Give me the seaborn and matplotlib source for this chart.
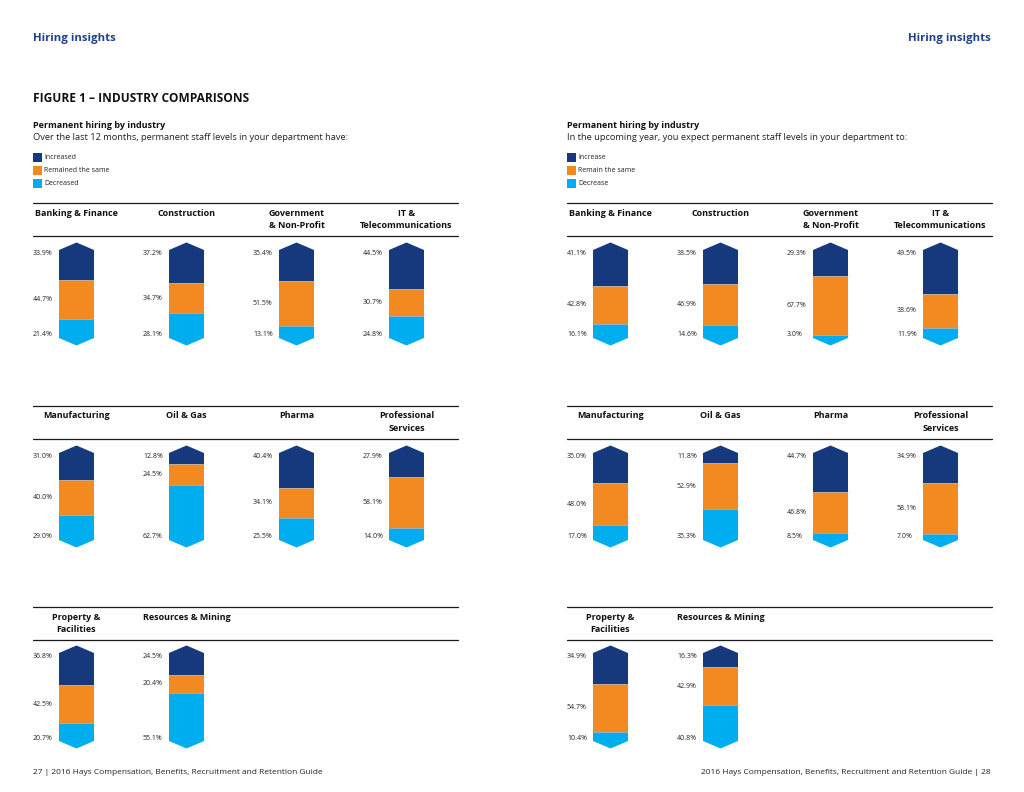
import pandas as pd
import matplotlib.pyplot as plt
import matplotlib.transforms as mtransforms
from matplotlib.patches import Polygon, Rectangle
import seaborn as sns

# industries, one list per row of the figure
row1 = ["Banking & Finance", "Construction", "Government\n& Non-Profit", "IT &\nTelecommunications"]
row2 = ["Manufacturing", "Oil & Gas", "Pharma", "Professional\nServices"]
row3 = ["Property &\nFacilities", "Resources & Mining"]

# left page: over the last 12 months (%)
inc_past = [33.9, 37.2, 35.4, 44.5, 31.0, 12.8, 40.4, 27.9, 36.8, 24.5]
same_past = [44.7, 34.7, 51.5, 30.7, 40.0, 24.5, 34.1, 58.1, 42.5, 20.4]
dec_past = [21.4, 28.1, 13.1, 24.8, 29.0, 62.7, 25.5, 14.0, 20.7, 55.1]

# right page: in the upcoming year (%)
inc_next = [41.1, 38.5, 29.3, 49.5, 35.0, 11.8, 44.7, 34.9, 34.9, 16.3]
same_next = [42.8, 46.9, 67.7, 38.6, 48.0, 52.9, 46.8, 58.1, 54.7, 42.9]
dec_next = [16.1, 14.6, 3.0, 11.9, 17.0, 35.3, 8.5, 7.0, 10.4, 40.8]

legend_past = ["Increased", "Remained the same", "Decreased"]
legend_next = ["Increase", "Remain the same", "Decrease"]

DARK = "#16387c"
ORANGE = "#f28a21"
LIGHT = "#00aeef"
HEAD = "#1f3f8f"
TXT = "#222222"

sns.set_style("white")
plt.rcParams["font.family"] = ["Open Sans", "DejaVu Sans"]

W, H = 1024, 792
fig = plt.figure(figsize=(W / 100, H / 100), dpi=100)

# full-page overlay in pixel units for text and rules
over = fig.add_axes([0, 0, 1, 1])
over.set_xlim(0, W)
over.set_ylim(H, 0)
over.axis("off")


def px_axes(l, t, r, b):
    return fig.add_axes([l / W, 1 - b / H, (r - l) / W, (b - t) / H])


rows = [row1, row2, row3]
row_slices = [(0, 4), (4, 8), (8, 10)]
rules = [(203, 236), (406, 439), (607, 640)]
bodies = [(250, 338), (453, 540), (653, 741)]
step = 110.0
bar_w = 35 / step

pages = [
    dict(x0=33, inc=inc_past, same=same_past, dec=dec_past, legend=legend_past,
         sub="Over the last 12 months, permanent staff levels in your department have:"),
    dict(x0=567, inc=inc_next, same=same_next, dec=dec_next, legend=legend_next,
         sub="In the upcoming year, you expect permanent staff levels in your department to:"),
]

# page headers / footers
over.text(33, 38, "Hiring insights", color=HEAD, fontsize=8.2, fontweight="bold", va="center")
over.text(991, 38, "Hiring insights", color=HEAD, fontsize=8.2, fontweight="bold", va="center", ha="right")
over.text(33, 98, "FIGURE 1 \u2013 INDUSTRY COMPARISONS", color="#111111", fontsize=8.6,
          fontweight="bold", va="center")
over.text(33, 772, "27 | 2016 Hays Compensation, Benefits, Recruitment and Retention Guide",
          color=TXT, fontsize=6, va="center")
over.text(991, 772, "2016 Hays Compensation, Benefits, Recruitment and Retention Guide | 28",
          color=TXT, fontsize=6, va="center", ha="right")

for pg in pages:
    x0 = pg["x0"]
    over.text(x0, 125, "Permanent hiring by industry", color="#111111", fontsize=6.5,
              fontweight="bold", va="center")
    over.text(x0, 138, pg["sub"], color=TXT, fontsize=6.7, va="center")
    for k, (lab, col) in enumerate(zip(pg["legend"], [DARK, ORANGE, LIGHT])):
        y = 153 + 13 * k
        over.add_patch(Rectangle((x0, y), 9, 8.5, color=col, lw=0))
        over.text(x0 + 11, y + 4.5, lab, color=TXT, fontsize=5, va="center")

    for r, cats in enumerate(rows):
        a, b = row_slices[r]
        inc = pg["inc"][a:b]
        same = pg["same"][a:b]
        dec = pg["dec"][a:b]
        df = pd.DataFrame({"industry": cats, "inc": inc, "same": same, "dec": dec})
        df["mid"] = df["dec"] + df["same"]
        df["top"] = df["mid"] + df["inc"]

        for y in rules[r]:
            over.plot([x0, x0 + 425], [y, y], color="#1a1a1a", lw=0.9)

        top, bot = bodies[r]
        ax = px_axes(x0, top, x0 + 425, bot)
        n0 = len(ax.patches)
        sns.barplot(data=df, x="industry", y="top", order=cats, color=DARK, width=bar_w,
                    saturation=1, errorbar=None, linewidth=0, ax=ax)
        dark_bars = ax.patches[n0:]
        sns.barplot(data=df, x="industry", y="mid", order=cats, color=ORANGE, width=bar_w,
                    saturation=1, errorbar=None, linewidth=0, ax=ax)
        sns.barplot(data=df, x="industry", y="dec", order=cats, color=LIGHT, width=bar_w,
                    saturation=1, errorbar=None, linewidth=0, ax=ax)
        ax.set_xlim(-43.5 / step, 381.5 / step)
        ax.set_ylim(0, 100)
        ax.axis("off")

        scale = (bot - top) / 100.0
        cap = 7.5 / scale
        for p, (_, row) in zip(dark_bars, df.iterrows()):
            bx, bw, bh = p.get_x(), p.get_width(), p.get_height()
            ax.add_patch(Polygon([(bx, bh), (bx + bw / 2, bh + cap), (bx + bw, bh)],
                                 closed=True, color=DARK, lw=0, clip_on=False))
            ax.add_patch(Polygon([(bx, 0), (bx + bw / 2, -cap), (bx + bw, 0)],
                                 closed=True, color=LIGHT, lw=0, clip_on=False))
            # faint seams between the stacked segments
            for yb in (row["dec"], row["mid"]):
                ax.plot([bx, bx + bw], [yb, yb], color="#b9b4b0", lw=0.7, alpha=0.8,
                        solid_capstyle="butt", clip_on=False)

        # percentage labels to the left of each bar
        for i, row in df.iterrows():
            lx = i - 43.5 / step
            ax.text(lx, 100 - 4 / scale, f"{row['inc']:.1f}%", fontsize=5, color=TXT, va="center")
            ax.text(lx, row["dec"] + row["same"] / 2, f"{row['same']:.1f}%", fontsize=5,
                    color=TXT, va="center")
            ax.text(lx, 3 / scale, f"{row['dec']:.1f}%", fontsize=5, color=TXT, va="center")

        # industry headers centred over the bars
        trans = mtransforms.blended_transform_factory(ax.transData, over.transData)
        for i, c in enumerate(cats):
            ax.text(i, rules[r][0] + 5.5, c, transform=trans, ha="center", va="top",
                    fontsize=6.5, fontweight="bold", color="#111111", linespacing=1.45,
                    multialignment="center")

fig.savefig("out.png", dpi=100)
